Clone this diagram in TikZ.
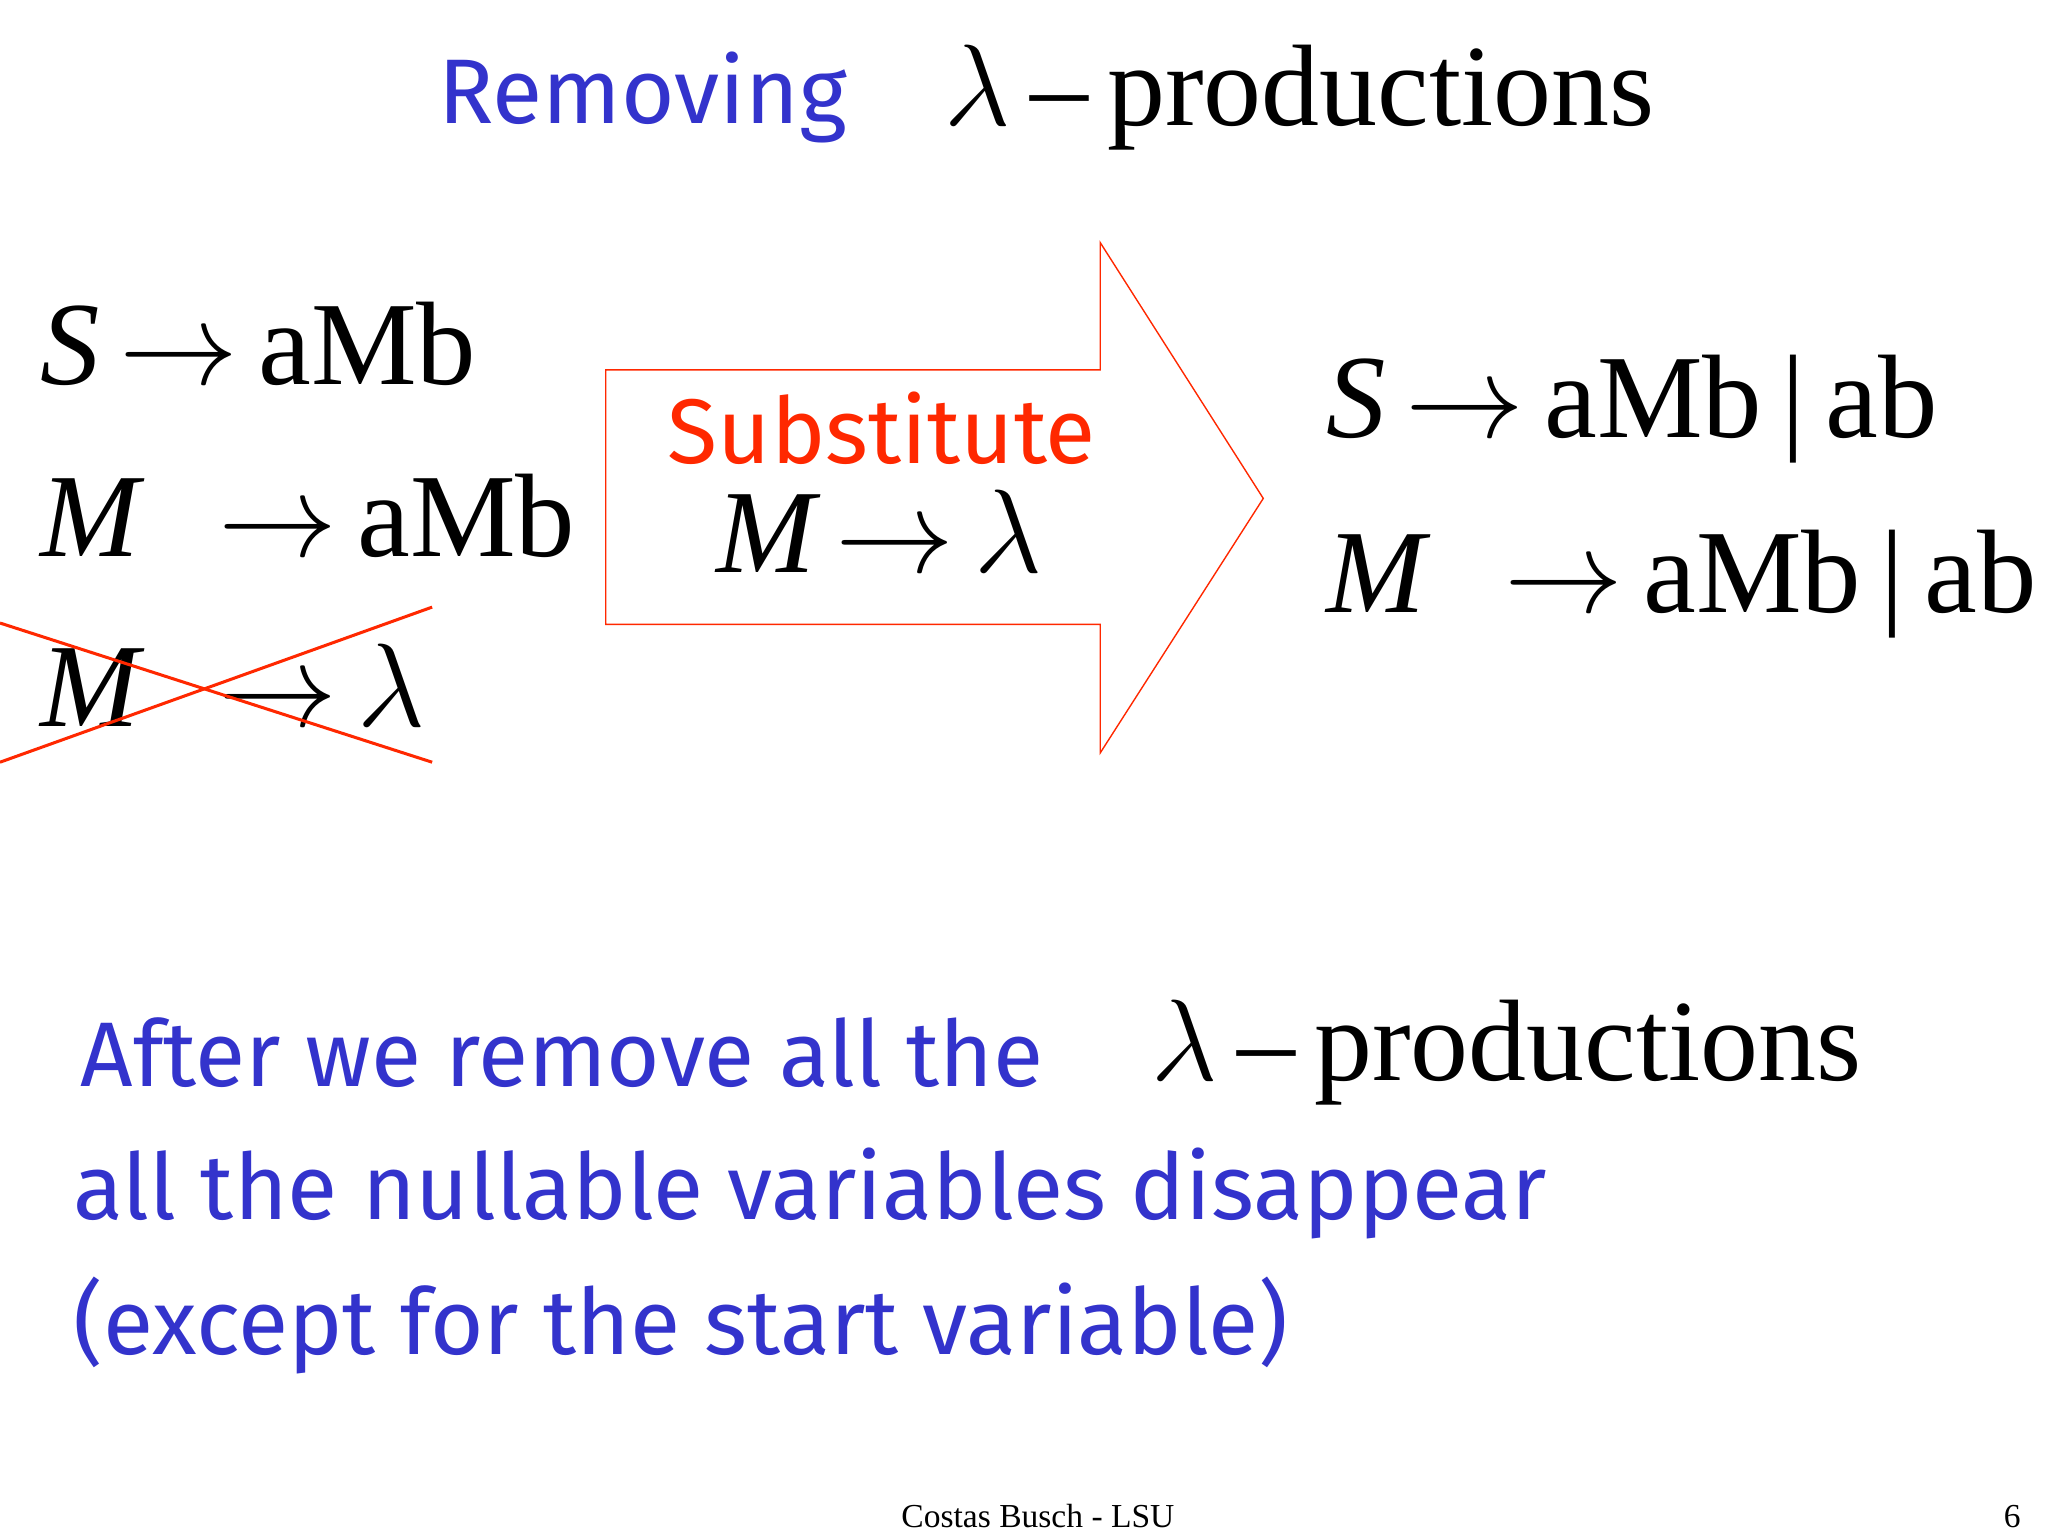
\documentclass[tikz,border=0pt]{standalone}
\usepackage{fontspec}
\setmainfont{Liberation Serif}
\newfontfamily\bluefont{Fira Sans}
\definecolor{myblue}{RGB}{51,51,204}
\definecolor{myred}{RGB}{255,40,0}
\newcommand{\myar}{\,\upshape$\rightarrow$\,}
\newcommand{\mybar}{\,\upshape|\,}
\begin{document}
\begin{tikzpicture}[x=0.02cm,y=-0.02cm,
  mth/.style={anchor=base west,inner sep=0,font=\Huge\itshape,scale=2.05},
  blu/.style={anchor=base west,inner sep=0,font=\huge\bluefont,text=myblue,scale=1.9},
  ttl/.style={anchor=base west,inner sep=0,font=\Huge,scale=2.0}]
\useasboundingbox (0,0) rectangle (1545,1160);
\node[blu] (rem) at (330,93) {Removing};
\node[ttl] (t1) at (712,95) {$\lambda$\,–\,productions};
\node[mth] (r1) at (30,290) {S\myar aMb};
\node[mth] (r2) at (30,420) {M\ \ \myar aMb};
\node[mth] (r3) at (30,548) {M\ \ \myar$\lambda$};
\draw[myred,line width=1.3pt] (0,470) -- (326,575);
\draw[myred,line width=1.3pt] (0,575) -- (326,458);
\draw[myred,line width=0.6pt] (457,279) -- (830,279) -- (830,183) -- (953,376) -- (830,568) -- (830,471) -- (457,471) -- cycle;
\node[blu,text=myred] (sub) at (503,350) {Substitute};
\node[mth] (ml) at (540,432) {M\myar$\lambda$};
\node[mth] (o1) at (1000,330) {S\myar aMb\mybar ab};
\node[mth] (o2) at (1000,462) {M\ \ \myar aMb\mybar ab};
\node[blu] (b1) at (60,820) {After we remove all the};
\node[ttl] (b1m) at (868,815) {$\lambda$\,–\,productions};
\node[blu] (b2) at (55,920) {all the nullable variables disappear};
\node[blu] (b3) at (55,1022) {(except for the start variable)};
\node[anchor=base,inner sep=0,font=\Large] (ft) at (783,1152) {Costas Busch - LSU};
\node[anchor=base,inner sep=0,font=\Large] (pg) at (1518,1152) {6};
\end{tikzpicture}
\end{document}
